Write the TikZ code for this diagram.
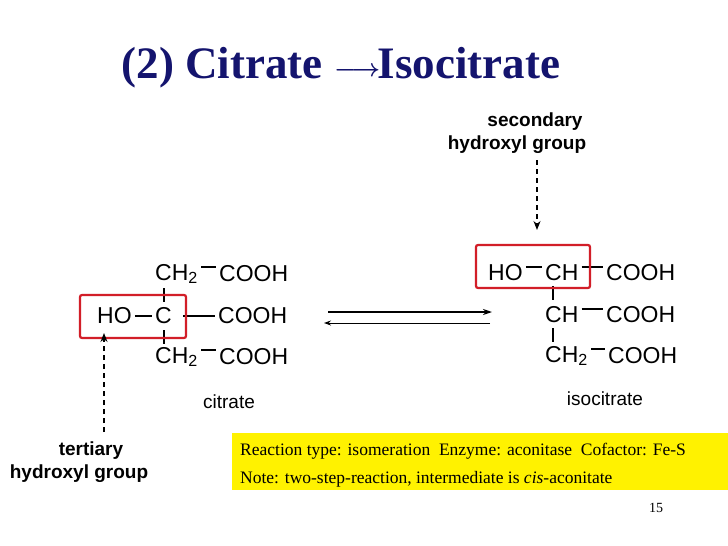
\documentclass[tikz,border=0pt]{standalone}
\usepackage{fontspec}
\setmainfont{Liberation Serif}
\newfontfamily\chem{Liberation Sans}
\usetikzlibrary{arrows.meta}
\begin{document}
\begin{tikzpicture}[x=1pt,y=-1pt,
  atom/.style={inner sep=0pt,font=\chem\fontsize{23}{23}\selectfont},
  lbl/.style={inner sep=0pt,font=\chem\bfseries\fontsize{19}{23}\selectfont,align=center},
  namelbl/.style={inner sep=0pt,font=\chem\fontsize{19}{19}\selectfont},
  bond/.style={line width=1.2pt,shorten <=3pt,shorten >=3pt},
  redbox/.style={draw={rgb,255:red,210;green,30;blue,40},line width=2.2pt,rounded corners=2pt},
  dasharrow/.style={dash pattern=on 5pt off 4pt,line width=1.3pt,-{Stealth[length=9pt,width=7pt]}}]
\useasboundingbox (0,0) rectangle (728,546);
\fill[white] (0,0) rectangle (728,546);
\node[inner sep=0pt,font=\bfseries\fontsize{45}{45}\selectfont,text={rgb,255:red,20;green,20;blue,110}] (title) at (341,68) {(2) Citrate \raisebox{2pt}{\boldmath$\longrightarrow$}\kern-0.3em\ Isocitrate};
% citrate
\node[atom,anchor=west] (c1) at (155,274) {CH\textsubscript{2}};
\node[atom,anchor=west] (c1a) at (219,274) {COOH};
\node[atom,anchor=west] (ho) at (97,316) {HO};
\node[atom,anchor=west] (c2) at (155,316) {C};
\node[atom,anchor=west] (c2a) at (218,316) {COOH};
\node[atom,anchor=west] (c3) at (155,357) {CH\textsubscript{2}};
\node[atom,anchor=west] (c3a) at (219,357) {COOH};
\draw[bond] (c1.east|-0,267) -- (c1a.west|-0,267);
\draw[bond] (c3.east|-0,350) -- (c3a.west|-0,350);
\draw[bond] (ho.east) -- (c2.west);
\draw[bond] (c2.east) ++(8,0) coordinate (cb) -- (c2a.west);
\draw[line width=1.2pt] (164,288) -- (164,302);
\draw[line width=1.2pt] (164,330) -- (164,344);
\draw[redbox] (80,295) rectangle (186,338);
\node[namelbl] (cit) at (229,402) {citrate};
\node[lbl] (tert) at (79,462) {\hspace*{24pt}tertiary\\hydroxyl group};
\draw[dasharrow] (104,432) -- (104,333);
% arrows
\coordinate (aL) at (328,312); \coordinate (aR) at (492,312);
\draw[line width=1.8pt,-{Stealth[length=9pt,width=6pt]}] (aL) -- (aR);
\coordinate (bL) at (324,323); \coordinate (bR) at (490,323);
\draw[line width=1pt,-{Stealth[length=7pt,width=5pt]}] (bR) -- (bL);
% isocitrate
\node[atom,anchor=west] (iho) at (488,273) {HO};
\node[atom,anchor=west] (i1) at (545,273) {CH};
\node[atom,anchor=west] (i1a) at (606,273) {COOH};
\node[atom,anchor=west] (i2) at (545,315) {CH};
\node[atom,anchor=west] (i2a) at (606,315) {COOH};
\node[atom,anchor=west] (i3) at (545,356) {CH\textsubscript{2}};
\node[atom,anchor=west] (i3a) at (608,356) {COOH};
\draw[bond] (iho.east|-0,267) -- (i1.west|-0,267);
\draw[bond] (i1.east|-0,267) -- (i1a.west|-0,267);
\draw[bond] (i2.east|-0,309) -- (i2a.west|-0,309);
\draw[bond] (i3.east|-0,349) -- (i3a.west|-0,349);
\draw[line width=1.2pt] (553,286) -- (553,300);
\draw[line width=1.2pt] (553,328) -- (553,342);
\draw[redbox] (476,245) rectangle (590,288);
\node[namelbl] (icit) at (605,399) {isocitrate};
\node[lbl] (sec) at (517,133) {\hspace*{36pt}secondary\\hydroxyl group};
\draw[dasharrow] (537,160) -- (537,230);
% note box
\fill[yellow] (232,433) rectangle (728,490);
\node[inner sep=0pt,anchor=west,font=\fontsize{17.5}{17.5}\selectfont] (n1) at (240,451) {Reaction type: isomeration\ \ Enzyme: aconitase\ \ Cofactor: Fe-S};
\node[inner sep=0pt,anchor=west,font=\fontsize{17.5}{17.5}\selectfont] (n2) at (240,479) {Note: two-step-reaction, intermediate is \textit{cis}-aconitate};
\node[inner sep=0pt,font=\fontsize{14}{14}\selectfont] (pg) at (656,508) {15};
\end{tikzpicture}
\end{document}
